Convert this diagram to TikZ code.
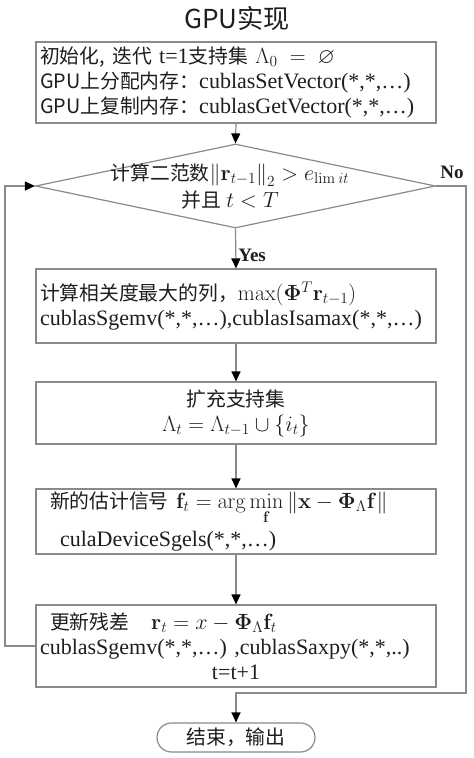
\RequirePackage{fix-cm}
\documentclass[tikz,border=0pt]{standalone}
\usepackage{amssymb}
\usepackage{amsmath}
\usepackage[no-math]{fontspec}
\setmainfont{Liberation Serif}
\newfontfamily\cjk[Scale=0.9]{Noto Sans CJK SC}
\usepackage{tikz}
\usetikzlibrary{arrows.meta}
\usetikzlibrary{shapes.geometric}
\definecolor{linegray}{HTML}{8A8A8A}
\definecolor{inkgray}{HTML}{1E1E1E}
\newcommand{\zh}[1]{{\cjk #1}}
\newcommand{\vbf}[1]{\mathbf{#1}}
\newcommand{\args}{(*,*,\ldots)}

\begin{document}
\begin{tikzpicture}[x=1pt,y=-1pt]
\tikzstyle{every node}=[font=\fontsize{22}{25}\selectfont, text=inkgray]
\tikzstyle{stepbox}=[draw=linegray, line width=1.2pt, minimum width=400pt, inner sep=0pt]
\tikzstyle{arr}=[draw=linegray, line width=1.2pt, -{Triangle[length=10pt,width=9pt,color=black]}]
\tikzstyle{yesno}=[font=\fontsize{19}{20}\selectfont\bfseries, inner sep=2pt]
\fill[white] (0,0) rectangle (474,758);
\useasboundingbox (0,0) rectangle (474,758);
\node[font=\fontsize{29}{30}\selectfont] (title) at (237,19) {\zh{GPU实现}};
\node[stepbox, minimum height=81pt, text width=392pt, align=left] (init) at (236,82.5)
  {\zh{初始化, 迭代} t=1\zh{支持集} $\Lambda_{0}\;=\;\varnothing$\\
   \zh{GPU上分配内存：}cublasSetVector\args\\
   \zh{GPU上复制内存：}cublasGetVector\args};
\node[diamond, draw=linegray, line width=1.2pt, minimum width=400pt, minimum height=84pt, inner sep=0pt] (cond) at (235.5,186) {};
\node[align=center] (condtxt) at (230,186)
  {\zh{计算二范数}$\left\|\vbf{r}_{t-1}\right\|_2>e_{\mathrm{lim}\,\mathit{it}}$\\[2pt]
   \zh{并且} $t<T$};
\node[stepbox, minimum height=74pt, text width=392pt, align=left] (corr) at (236,306)
  {\zh{计算相关度最大的列，}$\max(\vbf{\Phi}^{T}\vbf{r}_{t-1})$\\
   cublasSgemv\args,cublasIsamax\args};
\node[stepbox, minimum height=62pt, align=center] (expand) at (236,413)
  {\zh{扩充支持集}\\
   $\Lambda_t=\Lambda_{t-1}\cup\left\{i_t\right\}$};
\node[stepbox, minimum height=65pt, text width=372pt, align=left] (est) at (236,521.5)
  {\zh{新的估计信号} $\vbf{f}_t=\arg\min\limits_{\vbf{f}}\left\|\vbf{x}-\vbf{\Phi}_{\Lambda}\vbf{f}\right\|$\\[6pt]
   \hspace*{10pt}culaDeviceSgels\args};
\node[stepbox, minimum height=82pt, text width=392pt, align=left] (upd) at (236,646)
  {\hspace*{10pt}\zh{更新残差}\quad $\vbf{r}_t=x-\vbf{\Phi}_{\Lambda}\vbf{f}_t$\\
   cublasSgemv\args\ ,cublasSaxpy(*,*,..)\\
   \makebox[392pt]{t=t+1}};
\node[draw=linegray, line width=1.2pt, rounded corners=14.5pt, minimum width=158pt, minimum height=29pt, inner sep=0pt] (stop) at (236,737.5)
  {\zh{结束，输出}};
\node[yesno] (no) at (452,172) {No};
\coordinate (loopL) at (5,186);
\coordinate (loopR) at (466,186);
\coordinate (merge) at (236,693);
\draw[arr] (init.south) -- (cond.north);
\draw[arr] (cond.south) -- (corr.north) node[yesno, pos=0.66, right] (yes) {Yes};
\draw[arr] (corr.south) -- (expand.north);
\draw[arr] (expand.south) -- (est.north);
\draw[arr] (est.south) -- (upd.north);
\draw[arr] (upd.west) -| (loopL) -- (cond.west);
\draw[arr] (cond.east) -- (loopR) |- (merge) -- (stop.north);
\end{tikzpicture}
\end{document}
